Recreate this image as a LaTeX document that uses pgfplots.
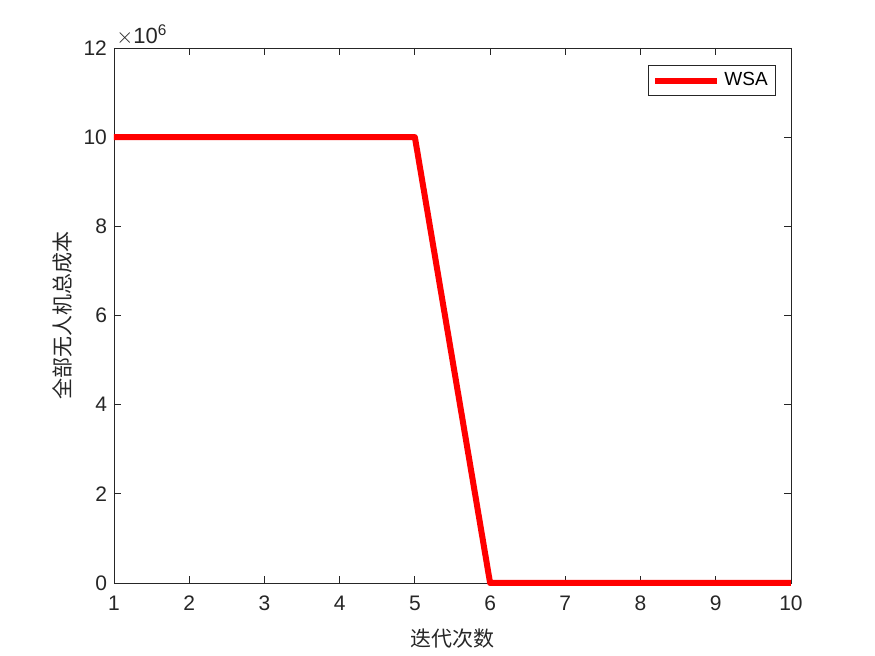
\documentclass[border=0pt]{standalone}
\usepackage{pgfplots}
\pgfplotsset{compat=1.18}
\usepackage{fontspec}
\setmainfont{Liberation Sans}
\newfontfamily\cjk{Noto Sans CJK SC}
\definecolor{axgray}{RGB}{38,38,38}

\begin{document}
\begin{tikzpicture}
\useasboundingbox (-57pt,-36.5pt) rectangle (380.5pt,291.5pt);
\begin{axis}[
  at={(0,0)}, anchor=south west,
  scale only axis,
  width=338.5pt, height=267.5pt,
  xmin=1, xmax=10, ymin=0, ymax=1.2e7,
  xtick={1,2,...,10},
  ytick={0,2e6,4e6,6e6,8e6,10e6,12e6},
  yticklabels={0,2,4,6,8,10,12},
  scaled y ticks=false,
  tick align=inside,
  major tick length=3.5pt,
  axis line style={axgray, line width=0.4pt},
  tick style={axgray, line width=0.4pt},
  ticklabel style={font=\fontsize{10.5}{12}\selectfont, text=axgray},
  xticklabel style={yshift=-3pt},
  /pgf/number format/assume math mode=true,
  xlabel={\cjk 迭代次数},
  ylabel={\cjk 全部无人机总成本},
  label style={font=\fontsize{10.5}{12}\selectfont, text=axgray},
  xlabel style={yshift=-2pt},
  ylabel style={yshift=-1pt},
  legend style={at={(rel axis cs:0.978,0.968)}, anchor=north east,
    font=\fontsize{9.5}{11}\selectfont, draw=axgray, line width=0.4pt,
    inner xsep=2pt, inner ysep=1.5pt},
  legend cell align=left,
  legend image code/.code={\draw[#1, line width=3pt] (0pt,0pt) -- (31pt,0pt);},
  clip=false,
]
\addplot[red, line width=3pt, line join=round] coordinates {
  (1,1e7) (2,1e7) (3,1e7) (4,1e7) (5,1e7)
  (6,0) (7,0) (8,0) (9,0) (10,0)
};
\addlegendentry{WSA}
\node[anchor=south west, font=\fontsize{11}{12}\selectfont, text=axgray, inner sep=1pt]
  at (rel axis cs:0,1) {$\times$10\textsuperscript{6}};
\end{axis}
\end{tikzpicture}
\end{document}
